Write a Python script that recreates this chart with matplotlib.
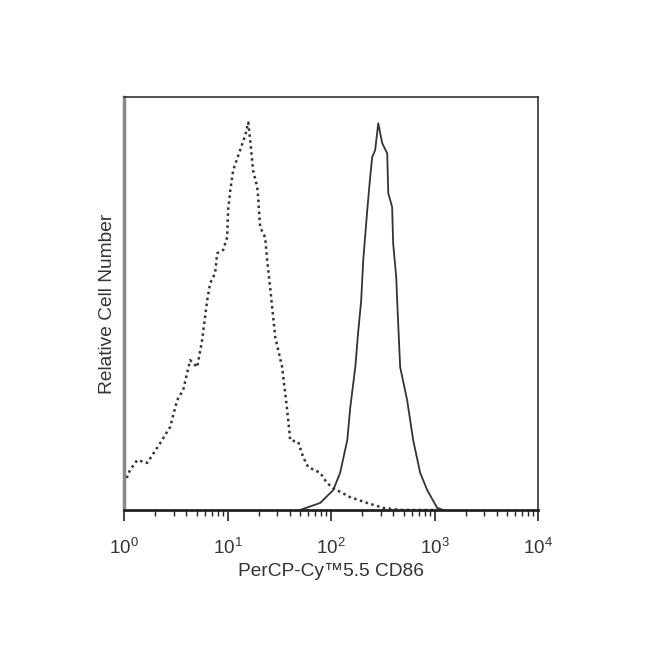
import numpy as np
import matplotlib
matplotlib.use("Agg")
import matplotlib.pyplot as plt
from matplotlib.ticker import LogLocator, NullFormatter

plt.rcParams['font.family'] = ['Liberation Sans', 'DejaVu Sans']

# isotype control (dashed) - fluorescence vs relative count (%)
ctrl_x = [1.0, 1.0, 1.07, 1.14, 1.34, 1.67, 2.23, 2.78, 3.25, 3.72, 4.34, 5.07, 5.67,
          6.34, 6.78, 7.57, 7.92, 9.05, 9.89, 10.1, 10.6, 11.3, 13.2, 14.8, 15.8,
          16.5, 17.6, 19.3, 19.7, 20.6, 23.0, 24.1, 25.7, 26.9, 28.8, 33.6, 37.6,
          40.2, 48.0, 53.6, 59.9, 78.3, 91.5, 104.5, 152.6, 222.9, 318, 464, 1057]
ctrl_y = [105, 8.0, 8.0, 9.7, 12.1, 11.4, 16.2, 20.1, 26.6, 29.1, 36.3, 34.6, 41.2,
          50.8, 55.0, 57.4, 62.2, 63.0, 66.1, 72.6, 77.5, 82.3, 87.2, 90.8, 93.9,
          89.6, 82.3, 78.2, 75.8, 68.5, 66.1, 60.5, 54.0, 49.2, 41.9, 34.6, 24.2,
          16.9, 16.5, 12.8, 10.4, 9.0, 6.5, 5.3, 3.1, 1.7, 0.5, 0.0, 0.0]

# CD86 stained (solid)
cd86_x = [50.2, 78.3, 104.5, 122, 143, 153, 171, 182, 195, 204, 223, 238, 249, 266,
          285, 311, 348, 356, 388, 397, 425, 434, 464, 542, 620, 724, 847, 1057, 1208]
cd86_y = [0.0, 1.7, 4.8, 9.0, 16.9, 24.9, 34.6, 42.9, 50.8, 60.5, 72.6, 80.6, 85.5,
          87.2, 93.7, 88.9, 86.4, 76.8, 73.4, 64.6, 56.4, 50.8, 34.6, 26.6, 16.9,
          9.0, 4.8, 0.5, 0.0]

fig = plt.figure(figsize=(6.5, 6.71), dpi=100)
ax = fig.add_axes([0.191, 0.240, 0.637, 0.615])

ax.plot(ctrl_x, ctrl_y, color="#333333", lw=1.8, linestyle=(0, (1.0, 1.4)))
ax.plot(cd86_x, cd86_y, color="#333333", lw=1.3)

ax.set_xscale("log")
ax.set_xlim(1, 1e4)
ax.set_ylim(0, 100)

ax.xaxis.set_major_locator(LogLocator(base=10, numticks=10))
ax.xaxis.set_minor_locator(LogLocator(base=10, subs=np.arange(2, 10), numticks=10))
ax.xaxis.set_minor_formatter(NullFormatter())
ax.tick_params(axis="x", which="major", direction="out", length=8, width=1.2,
               labelsize=13.5, colors="#222222", labelcolor="#333333", pad=12)
ax.tick_params(axis="x", which="minor", direction="out", length=4, width=1.0,
               colors="#222222")
ax.set_yticks([])

for side in ["top", "right"]:
    ax.spines[side].set_color("#333333")
    ax.spines[side].set_linewidth(1.2)
ax.spines["left"].set_color("#888888")
ax.spines["left"].set_linewidth(2.5)
ax.spines["bottom"].set_color("#222222")
ax.spines["bottom"].set_linewidth(2.0)

ax.set_xlabel("PerCP-Cy\u21225.5 CD86", fontsize=13.8, color="#333333", labelpad=4)
ax.set_ylabel("Relative Cell Number", fontsize=13.8, color="#333333", labelpad=6)

fig.savefig("out.png", dpi=100)
